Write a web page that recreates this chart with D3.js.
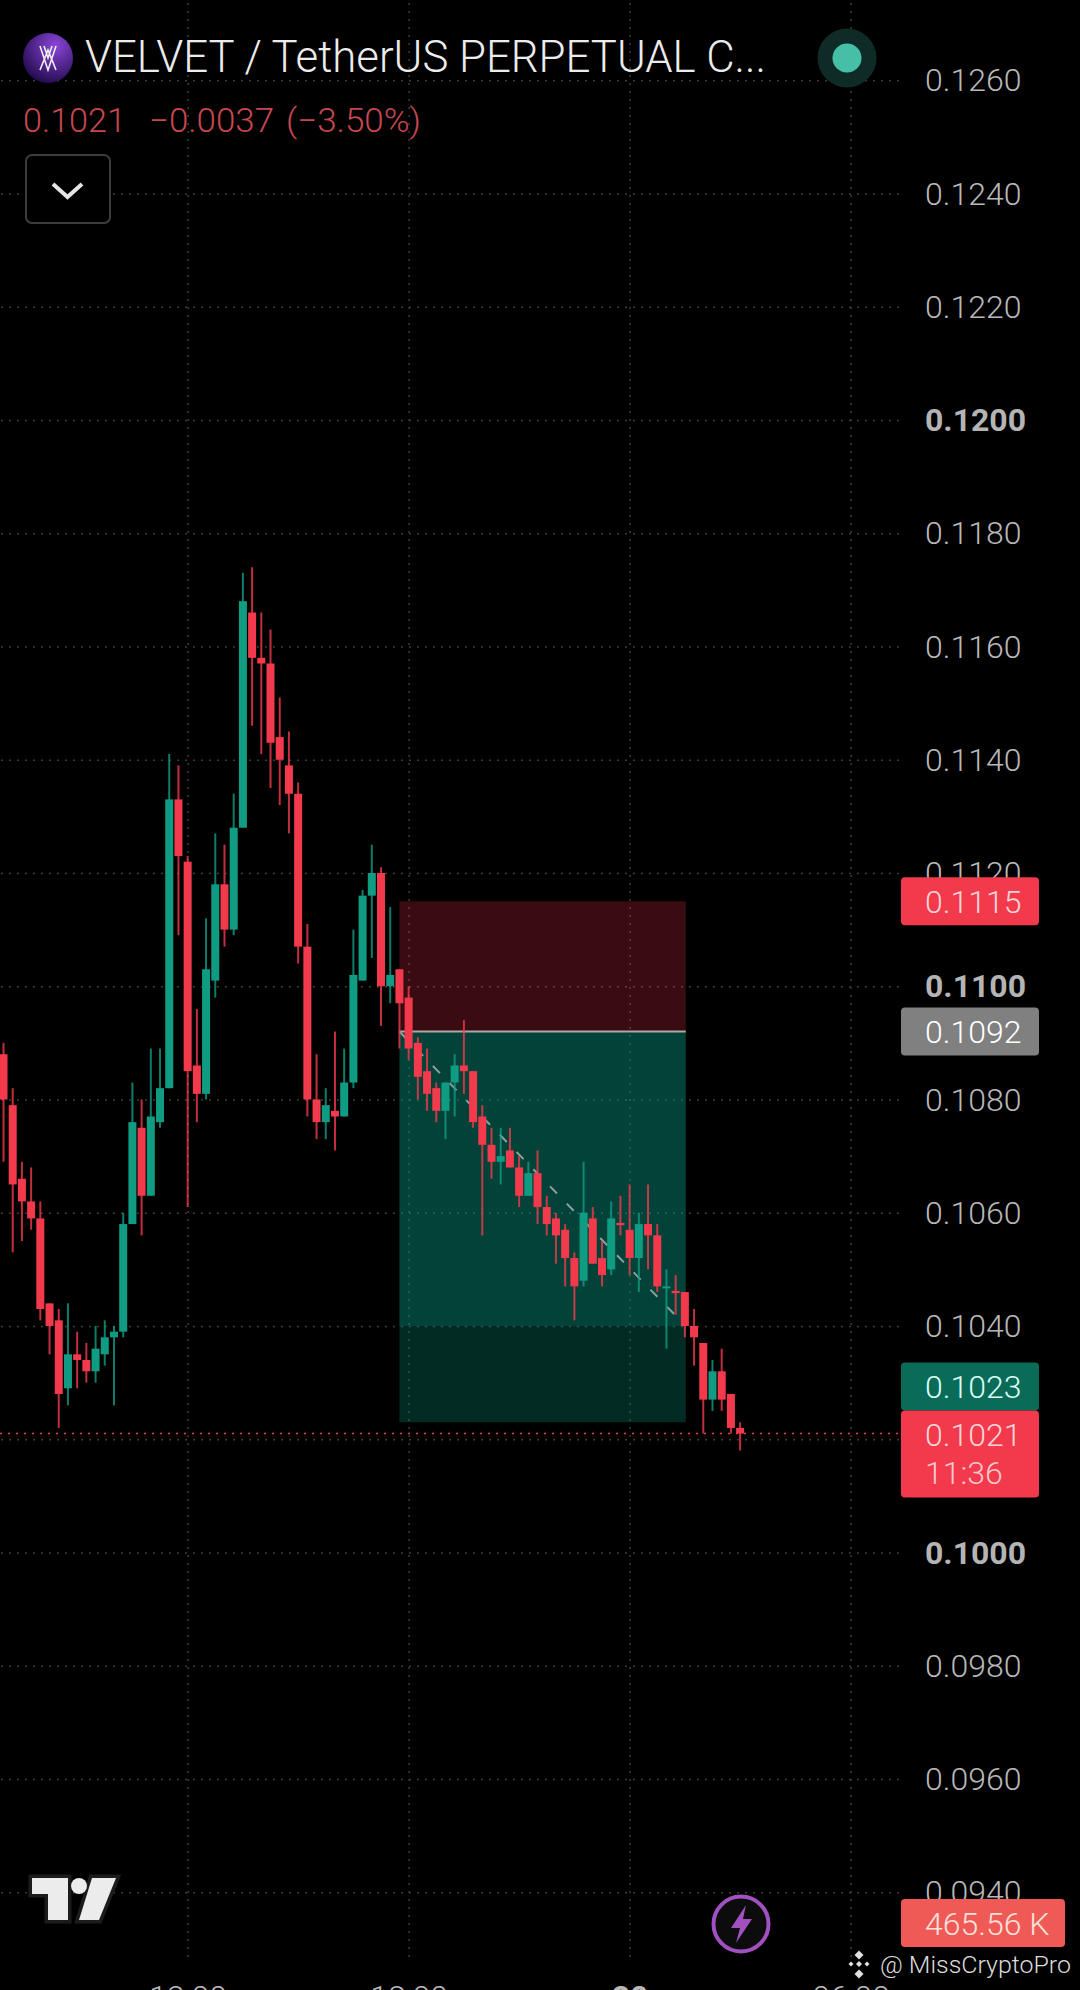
<!DOCTYPE html>
<html>
<head>
<meta charset="utf-8">
<title>VELVET / TetherUS</title>
<script src="https://cdn.jsdelivr.net/npm/d3@7/dist/d3.min.js"></script>
<style>
    html, body { margin: 0; padding: 0; background: #000; overflow: hidden; }
    text { font-family: Roboto, sans-serif; }
    .axis .domain { display: none; }
</style>
</head>
<body>
<div id="chart"></div>
<script>
// 15 minute candles
var opens = [0.1088,0.1079,0.1066,0.1062,0.1059,0.1044,0.1041,0.1029,0.1035,0.1034,0.1032,0.1035,0.1038,0.1039,0.1058,0.1075,0.1063,0.1076,0.1082,0.1133,0.1122,0.1086,0.1081,0.1101,0.1118,0.1110,0.1128,0.1166,0.1158,0.1157,0.1144,0.1139,0.1134,0.1107,0.1080,0.1076,0.1078,0.1077,0.1083,0.1101,0.1116,0.1120,0.1100,0.1103,0.1098,0.1090,0.1085,0.1082,0.1078,0.1083,0.1086,0.1085,0.1077,0.1072,0.1069,0.1071,0.1068,0.1063,0.1067,0.1061,0.1059,0.1057,0.1052,0.1048,0.1059,0.1052,0.1050,0.10582,0.1057,0.1052,0.1058,0.1056,0.1047,0.10462,0.1046,0.1040,0.1037,0.1027,0.1032,0.1028,0.1022];
var highs = [0.1090,0.1082,0.1069,0.1068,0.1062,0.1044,0.1043,0.1044,0.1039,0.1037,0.1040,0.1041,0.1040,0.1060,0.1083,0.1080,0.1089,0.1089,0.1141,0.1139,0.1123,0.1096,0.1112,0.1127,0.1125,0.1134,0.1173,0.1174,0.1166,0.1163,0.1151,0.1145,0.1136,0.1111,0.1088,0.1082,0.1092,0.1089,0.1110,0.1117,0.1125,0.1121,0.1114,0.1103,0.1100,0.1091,0.1089,0.1083,0.1083,0.1088,0.1094,0.1085,0.1079,0.1075,0.1075,0.1075,0.1070,0.1069,0.1071,0.1063,0.1060,0.1058,0.1053,0.1069,0.1061,0.1055,0.1062,0.1063,0.1065,0.1060,0.1065,0.1058,0.1050,0.1049,0.1046,0.1043,0.1037,0.1034,0.1036,0.1028,0.1023];
var lows = [0.1069,0.1053,0.1055,0.1057,0.1041,0.1035,0.1022,0.1026,0.1029,0.1030,0.1030,0.1033,0.1026,0.1038,0.1058,0.1056,0.1063,0.1075,0.1082,0.1109,0.1061,0.1076,0.1080,0.1098,0.1107,0.1109,0.1128,0.1146,0.1141,0.1135,0.1132,0.1127,0.1104,0.1077,0.1073,0.1073,0.1071,0.1077,0.1082,0.1101,0.1105,0.1093,0.1097,0.1089,0.1087,0.1080,0.1078,0.1076,0.1073,0.1077,0.1081,0.1075,0.1056,0.1066,0.1065,0.1068,0.1061,0.1063,0.1058,0.1056,0.1051,0.1047,0.1041,0.1047,0.1051,0.1047,0.1049,0.1056,0.1049,0.1046,0.1050,0.1046,0.1036,0.1042,0.1038,0.1033,0.1021,0.1025,0.1025,0.1021,0.1018];
var closes = [0.1080,0.1065,0.1062,0.1059,0.1043,0.1040,0.1028,0.1035,0.1034,0.1032,0.1036,0.1038,0.1039,0.1058,0.1076,0.1063,0.1077,0.1082,0.1133,0.1123,0.1085,0.1081,0.1103,0.1118,0.1110,0.1128,0.1168,0.1158,0.1157,0.1143,0.1140,0.1134,0.1107,0.1080,0.1076,0.1079,0.1077,0.1083,0.1102,0.1116,0.1120,0.1100,0.1102,0.1097,0.1089,0.1084,0.1081,0.1078,0.1083,0.1086,0.1085,0.1076,0.1072,0.1069,0.1070,0.1068,0.1063,0.1067,0.1061,0.1058,0.1056,0.1052,0.1047,0.1060,0.1051,0.1049,0.1059,0.10578,0.1052,0.1058,0.1056,0.1047,0.1047,0.10458,0.1040,0.1038,0.1027,0.1032,0.1027,0.1022,0.1021];

var price_ticks = [0.1260,0.1240,0.1220,0.1200,0.1180,0.1160,0.1140,0.1120,0.1100,0.1080,0.1060,0.1040,0.1020,0.1000,0.0980,0.0960,0.0940];
var hidden_ticks = [0.1020];
var bold_ticks = [0.1200,0.1100,0.1000];
var time_ticks = [20,44,68,92];
var time_labels = ['12:00','18:00','20','06:00'];

// position tool
var pos_stop = 0.1115, pos_entry = 0.1092, pos_mid = 0.1040, pos_target = 0.1023;
var pos_start = 43, pos_end = 74.1;
var last_price = 0.1021;

var title = 'VELVET / TetherUS PERPETUAL C...';
var last_label = '0.1021', change_label = '\u22120.0037', pct_label = '(\u22123.50%)';
var countdown = '11:36', volume_label = '465.56 K', watermark = '@ MissCryptoPro';

var width = 1080, height = 1990, plot_right = 899;
var red = '#f23a4c', green = '#109c83';

var svg = d3.select('#chart').append('svg')
    .attr('width', width)
    .attr('height', height)
    .style('display', 'block')
    .style('background', '#000');

var xScale = d3.scaleLinear().domain([0, 92]).range([3.5, 850.6]);
var yScale = d3.scaleLinear().domain([0.1040, 0.1260]).range([1326, 80.25]);

var defs = svg.append('defs');
var grad = defs.append('radialGradient').attr('id', 'logo-grad').attr('cx', '65%').attr('cy', '25%').attr('r', '85%');
grad.append('stop').attr('offset', '0%').attr('stop-color', '#8a45d8');
grad.append('stop').attr('offset', '100%').attr('stop-color', '#1c0745');

// grid + axes
var yAxis = d3.axisRight(yScale)
    .tickValues(price_ticks)
    .tickSizeInner(-plot_right)
    .tickSizeOuter(0)
    .tickPadding(26)
    .tickFormat(d3.format('.4f'));
var y_axis_elem = svg.append('g')
    .attr('class', 'y axis')
    .attr('transform', 'translate(' + plot_right + ',0)')
    .call(yAxis);
y_axis_elem.selectAll('line')
    .attr('stroke', '#3c3c3c').attr('stroke-width', 1.5).attr('stroke-dasharray', '2 6');
y_axis_elem.selectAll('text')
    .attr('dy', '0.33em')
    .style('font-size', '32px')
    .style('font-weight', function(d) { return bold_ticks.indexOf(d) >= 0 ? 700 : 300; })
    .style('fill', function(d) { return bold_ticks.indexOf(d) >= 0 ? '#b4b4b4' : '#b8b8b8'; })
    .style('display', function(d) { return hidden_ticks.indexOf(d) >= 0 ? 'none' : null; });

var xAxis = d3.axisBottom(xScale)
    .tickValues(time_ticks)
    .tickSizeInner(-1957)
    .tickSizeOuter(0)
    .tickPadding(28)
    .tickFormat(function(d, i) { return time_labels[i]; });
var x_axis_elem = svg.append('g')
    .attr('class', 'x axis')
    .attr('transform', 'translate(0,1957)')
    .call(xAxis);
x_axis_elem.selectAll('line')
    .attr('stroke', '#3c3c3c').attr('stroke-width', 1.5).attr('stroke-dasharray', '2 6');
x_axis_elem.selectAll('text')
    .attr('y', 51).attr('dy', 0)
    .style('font-size', '32px')
    .style('font-weight', function(d, i) { return time_labels[i] === '20' ? 700 : 300; })
    .style('fill', '#b8b8b8');

// last price line
svg.append('line')
    .attr('x1', 0).attr('x2', plot_right)
    .attr('y1', yScale(last_price)).attr('y2', yScale(last_price))
    .attr('stroke', red).attr('stroke-width', 1.5).attr('stroke-dasharray', '2 6');

// position tool
function pos_zone(top, bottom, fill, opacity) {
    svg.append('rect')
        .attr('x', xScale(pos_start))
        .attr('width', xScale(pos_end) - xScale(pos_start))
        .attr('y', yScale(top))
        .attr('height', yScale(bottom) - yScale(top))
        .attr('fill', fill)
        .attr('fill-opacity', opacity);
}
pos_zone(pos_stop, pos_entry, '#f23645', 0.23);
pos_zone(pos_entry, pos_mid, '#089981', 0.43);
pos_zone(pos_mid, pos_target, '#089981', 0.28);

svg.append('line')
    .attr('x1', xScale(pos_start)).attr('x2', xScale(pos_end))
    .attr('y1', yScale(pos_entry)).attr('y2', yScale(pos_entry))
    .attr('stroke', '#b0a8a8').attr('stroke-width', 2);
svg.append('line')
    .attr('x1', xScale(pos_start)).attr('x2', xScale(pos_end))
    .attr('y1', yScale(pos_entry)).attr('y2', yScale(pos_mid))
    .attr('stroke', '#8f9f9b').attr('stroke-width', 2).attr('stroke-dasharray', '10 14');

// candles
var candles = svg.selectAll('.candle')
        .data(d3.range(opens.length))
    .enter()
        .append('g')
            .attr('class', 'candle');

function candle_colour(i) { return closes[i] >= opens[i] ? green : red; }

candles.append('line')
    .attr('x1', function(i) { return xScale(i); })
    .attr('x2', function(i) { return xScale(i); })
    .attr('y1', function(i) { return yScale(highs[i]); })
    .attr('y2', function(i) { return yScale(lows[i]); })
    .attr('stroke', candle_colour)
    .attr('stroke-width', 2)
    .attr('stroke-opacity', 0.8);

candles.append('rect')
    .attr('x', function(i) { return xScale(i) - 4; })
    .attr('width', 8)
    .attr('y', function(i) { return yScale(Math.max(opens[i], closes[i])); })
    .attr('height', function(i) { return Math.max(2, Math.abs(yScale(opens[i]) - yScale(closes[i]))); })
    .attr('fill', candle_colour);

// price tags on the scale
function tag(y, h, fill, w) {
    svg.append('rect')
        .attr('x', 901).attr('y', y)
        .attr('width', w || 138).attr('height', h)
        .attr('rx', 4)
        .attr('fill', fill);
}
function tag_text(str, y, fill, x) {
    svg.append('text')
        .attr('x', x || 925).attr('y', y).attr('dy', '0.36em')
        .style('font-size', '32px')
        .style('font-weight', 300)
        .style('fill', fill)
        .text(str);
}
var last_y = yScale(last_price);
tag(yScale(pos_stop) - 24, 48, '#f23a4c');
tag_text(d3.format('.4f')(pos_stop), yScale(pos_stop), '#f9d5d8');
tag(yScale(pos_entry) - 24, 48, '#808080');
tag_text(d3.format('.4f')(pos_entry), yScale(pos_entry), '#ffffff');
tag(last_y - 23 - 48, 48, '#0a6b58');
tag_text(d3.format('.4f')(pos_target), last_y - 47, '#d8fff5');
tag(last_y - 23, 87, '#f23a4c');
tag_text(last_label, last_y + 1, '#f9d5d8');
tag_text(countdown, last_y + 39, '#f9c8cd');
tag(1899, 48, '#ef5a57', 164);
tag_text(volume_label, 1923, '#f8e0dc');

// header
svg.append('circle').attr('cx', 48).attr('cy', 58).attr('r', 25).attr('fill', 'url(#logo-grad)');
svg.append('path')
    .attr('d', 'M40 46L48 70L56 46M44 46L48 58L52 46M40 70L48 50L56 70')
    .attr('fill', 'none').attr('stroke', '#eee').attr('stroke-width', 1.6);
svg.append('text')
    .attr('x', 85).attr('y', 72)
    .attr('textLength', 681).attr('lengthAdjust', 'spacingAndGlyphs')
    .style('font-size', '45px').style('font-weight', 300).style('fill', '#ececec')
    .text(title);

var sub_fill = '#c8474f';
[[last_label, 23, 103], [change_label, 149, 125], [pct_label, 286, 135]].forEach(function(d) {
    svg.append('text')
        .attr('x', d[1]).attr('y', 132)
        .attr('textLength', d[2]).attr('lengthAdjust', 'spacingAndGlyphs')
        .style('font-size', '33px').style('font-weight', 300).style('fill', sub_fill)
        .text(d[0]);
});

svg.append('rect')
    .attr('x', 26).attr('y', 155).attr('width', 84).attr('height', 68).attr('rx', 6)
    .attr('fill', '#000').attr('stroke', '#3c3c3c').attr('stroke-width', 2);
svg.append('path')
    .attr('d', 'M53 184L67.5 197L82 184')
    .attr('fill', 'none').attr('stroke', '#e6e6e6').attr('stroke-width', 4);

svg.append('circle').attr('cx', 847).attr('cy', 58).attr('r', 29.5).attr('fill', '#0e2b28');
svg.append('circle').attr('cx', 847).attr('cy', 58).attr('r', 14.5).attr('fill', '#45bfa6');

// tradingview mark
var tv = svg.append('g');
tv.append('path')
    .attr('d', 'M32 1878H68V1920H48V1894H32Z M92 1878H116L99 1920H79Z')
    .attr('fill', '#ececec').attr('stroke', '#1c1c1c').attr('stroke-width', 7).attr('paint-order', 'stroke');
tv.append('circle').attr('cx', 79).attr('cy', 1886).attr('r', 8).attr('fill', '#ececec');

// bolt button
svg.append('circle')
    .attr('cx', 741).attr('cy', 1924).attr('r', 27.5)
    .attr('fill', '#0c0c0c').attr('stroke', '#a050c0').attr('stroke-width', 4);
svg.append('path')
    .attr('d', 'M746 1905L731 1928H740L736 1943L752 1919H743Z')
    .attr('fill', '#a050c0');

// watermark
var diamonds = [[859, 1955, 4.5], [851, 1964, 2.5], [867, 1964, 2.5], [859, 1964, 3], [859, 1974, 4.5]];
svg.selectAll('.bn').data(diamonds).enter().append('path')
    .attr('class', 'bn')
    .attr('d', function(d) { return 'M' + d[0] + ' ' + (d[1] - d[2]) + 'L' + (d[0] + d[2]) + ' ' + d[1] + 'L' + d[0] + ' ' + (d[1] + d[2]) + 'L' + (d[0] - d[2]) + ' ' + d[1] + 'Z'; })
    .attr('fill', '#e0e0e0');
svg.append('text')
    .attr('x', 880).attr('y', 1973)
    .attr('textLength', 191).attr('lengthAdjust', 'spacingAndGlyphs')
    .style('font-size', '24px').style('font-weight', 300).style('fill', '#dcdcdc')
    .text(watermark);
</script>
</body>
</html>
